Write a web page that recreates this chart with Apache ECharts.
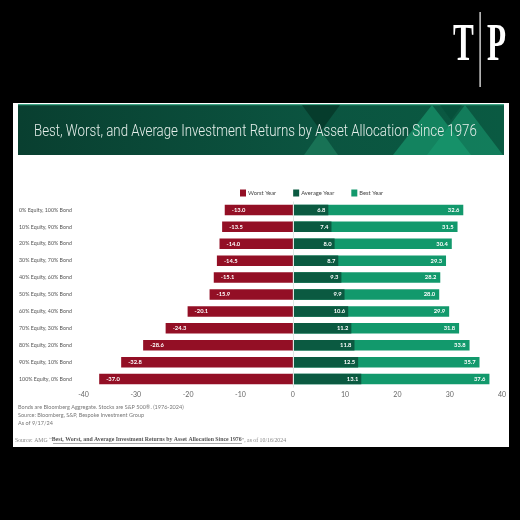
<!DOCTYPE html>
<html>
<head>
<meta charset="utf-8">
<style>
  html, body { margin: 0; padding: 0; background: #000; }
  #main { width: 520px; height: 520px; }
</style>
<script src="https://cdn.jsdelivr.net/npm/echarts@6/dist/echarts.min.js"></script>
</head>
<body>
<div id="main"></div>
<script>
const categories = [
  "0% Equity, 100% Bond", "10% Equity, 90% Bond", "20% Equity, 80% Bond",
  "30% Equity, 70% Bond", "40% Equity, 60% Bond", "50% Equity, 50% Bond",
  "60% Equity, 40% Bond", "70% Equity, 30% Bond", "80% Equity, 20% Bond",
  "90% Equity, 10% Bond", "100% Equity, 0% Bond"
];
const worstYear = [-13.0, -13.5, -14.0, -14.5, -15.1, -15.9, -20.1, -24.3, -28.6, -32.8, -37.0];
const averageYear = [6.8, 7.4, 8.0, 8.7, 9.3, 9.9, 10.6, 11.2, 11.8, 12.5, 13.1];
const bestYear = [32.6, 31.5, 30.4, 29.3, 28.2, 28.0, 29.9, 31.8, 33.8, 35.7, 37.6];
const titleText = "Best, Worst, and Average Investment Returns by Asset Allocation Since 1976";
const footnotes = [
  "Bonds are Bloomberg Aggregate. Stocks are S&P 500\u00ae. (1976-2024)",
  "Source: Bloomberg, S&P, Bespoke Investment Group",
  "As of 9/17/24"
];

const font = "Lato";
const oneDecimal = p => p.value.toFixed(1);

function barLabel(position, distance) {
  return {
    show: true,
    position: position,
    distance: distance,
    color: "#fff",
    fontFamily: font,
    fontSize: 5.8,
    fontWeight: "bold",
    formatter: oneDecimal
  };
}

// header triangles, only decoration
function tri(points, fill) {
  return { type: "polygon", shape: { points: points }, style: { fill: fill }, z: 2 };
}

// narrow serif logo letters
function logoLetter(letter, x) {
  return {
    type: "text", z: 3, x: x, y: 21, scaleX: 0.6,
    style: { text: letter, fill: "#fff", fontFamily: "Liberation Serif", fontSize: 52, fontWeight: "bold" }
  };
}

const chart = echarts.init(document.getElementById("main"));
chart.setOption({
  backgroundColor: "#000",
  animation: false,
  grid: { left: 83.5, right: 18, top: 201.5, bottom: 132.5, outerBoundsMode: "none" },
  legend: {
    left: 240,
    top: 189.5,
    padding: 0,
    itemWidth: 6,
    itemHeight: 7,
    itemGap: 17,
    icon: "rect",
    data: ["Worst Year", "Average Year", "Best Year"],
    textStyle: { color: "#444", fontFamily: font, fontSize: 5.8, padding: [0, 0, 0, -3] }
  },
  xAxis: {
    type: "value",
    min: -40,
    max: 40,
    interval: 10,
    splitLine: { show: false },
    axisLine: { show: false },
    axisTick: { show: false },
    axisLabel: { color: "#666", fontFamily: font, fontSize: 7, margin: 4 }
  },
  yAxis: {
    type: "category",
    inverse: true,
    data: categories,
    axisLine: { show: false, onZero: false },
    axisTick: { show: false },
    axisLabel: {
      align: "left",
      margin: 64.5,
      color: "#555",
      fontFamily: font,
      fontSize: 5.3
    }
  },
  series: [
    {
      name: "Best Year", type: "bar", data: bestYear, barWidth: 10.5, barGap: "-100%", z: 2,
      itemStyle: { color: "#12996c" },
      label: barLabel("insideRight", 4)
    },
    {
      name: "Average Year", type: "bar", data: averageYear, barWidth: 10.5, z: 3,
      itemStyle: { color: "#0b5a41" },
      label: barLabel("insideRight", 3)
    },
    {
      name: "Worst Year", type: "bar", data: worstYear, barWidth: 10.5, z: 3,
      itemStyle: { color: "#930f25" },
      label: barLabel("insideLeft", 7),
      // pale separator on the zero line
      markLine: {
        silent: true,
        symbol: "none",
        label: { show: false },
        lineStyle: { color: "#dfe8e4", width: 1, type: "solid" },
        data: [{ xAxis: 0 }]
      }
    }
  ],
  graphic: [
    { type: "rect", z: 0, shape: { x: 13, y: 103, width: 496, height: 344 }, style: { fill: "#fff" } },
    {
      type: "rect", z: 1, shape: { x: 18, y: 104, width: 486, height: 51 },
      style: {
        fill: new echarts.graphic.LinearGradient(0, 0, 1, 0, [
          { offset: 0, color: "#093f30" },
          { offset: 0.6, color: "#0b5440" },
          { offset: 1, color: "#0a5a42" }
        ])
      }
    },
    { type: "rect", z: 2, shape: { x: 18, y: 104, width: 486, height: 1.2 }, style: { fill: "#3ea886" } },
    tri([[302, 105], [340, 105], [321, 131]], "rgba(0,30,20,0.45)"),
    tri([[304, 155], [321, 131], [338, 155]], "rgba(40,150,110,0.45)"),
    tri([[393, 155], [432, 105], [471, 155]], "rgba(25,160,115,0.6)"),
    tri([[427, 155], [465, 105], [503, 155]], "rgba(25,160,115,0.5)"),
    tri([[440, 105], [462, 105], [451, 120]], "rgba(0,70,50,0.4)"),
    {
      type: "text", z: 3, x: 34, y: 124, scaleX: 0.83,
      style: { text: titleText, fill: "#e6efeb", fontFamily: "Roboto", fontSize: 16, fontWeight: 300 }
    },
    {
      type: "text", z: 3, left: 18, top: 403,
      style: { text: footnotes.join("\n"), fill: "#777", fontFamily: font, fontSize: 5.5, lineHeight: 8 }
    },
    {
      type: "text", z: 3, left: 15, top: 437,
      style: {
        rich: {
          a: { fill: "#888", fontFamily: "Liberation Serif", fontSize: 5.8 },
          b: { fill: "#555", fontFamily: "Liberation Serif", fontSize: 5.8, fontWeight: "bold" }
        },
        text: "{a|Source: AMG \u201c}{b|" + titleText + "}{a|\u201d, as of 10/16/2024}"
      }
    },
    { type: "rect", z: 3, shape: { x: 53, y: 443, width: 189, height: 0.6 }, style: { fill: "#555" } },
    logoLetter("T", 453),
    logoLetter("P", 487),
    { type: "rect", z: 3, shape: { x: 479.5, y: 12, width: 1.2, height: 75 }, style: { fill: "#fff" } }
  ]
});
</script>
</body>
</html>
